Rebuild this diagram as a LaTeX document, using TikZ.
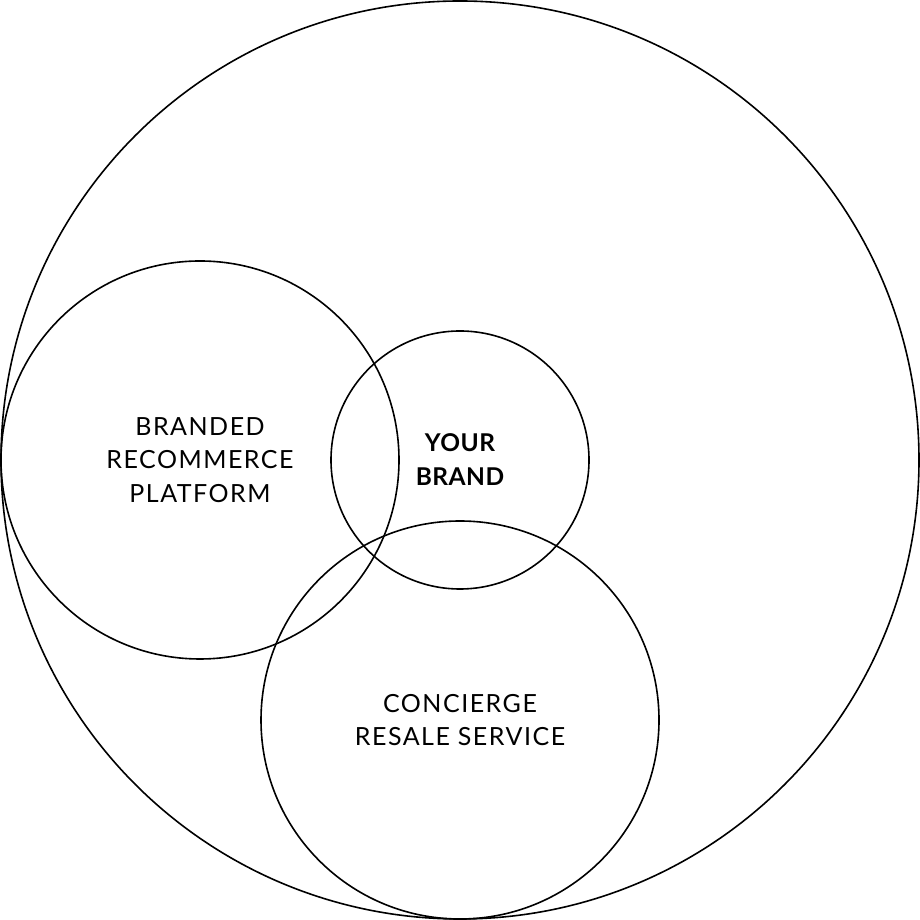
\documentclass[tikz,border=0pt]{standalone}
\usepackage{fontspec}
\setmainfont{Lato}[LetterSpace=6]
\newfontfamily\boldlato{Lato}[BoldFont={* Bold},LetterSpace=2]
\begin{document}
\begin{tikzpicture}[x=1pt,y=1pt,
  ring/.style={circle,draw=black,line width=1.6pt,inner sep=0pt,outer sep=0pt,align=center,
    font=\fontsize{25}{33.5}\selectfont}]
\useasboundingbox (0,0) rectangle (920,920);
\node[ring,minimum size=918pt] (outer) at (460,460) {};
\node[ring,minimum size=398pt] (platform) at (200,460) {BRANDED\\RECOMMERCE\\PLATFORM};
\node[ring,minimum size=258pt,font=\boldlato\bfseries\fontsize{24.5}{34}\selectfont] (brand) at (460,460) {YOUR\\BRAND};
\node[ring,minimum size=398pt] (concierge) at (460,200) {CONCIERGE\\RESALE SERVICE};
\end{tikzpicture}
\end{document}
